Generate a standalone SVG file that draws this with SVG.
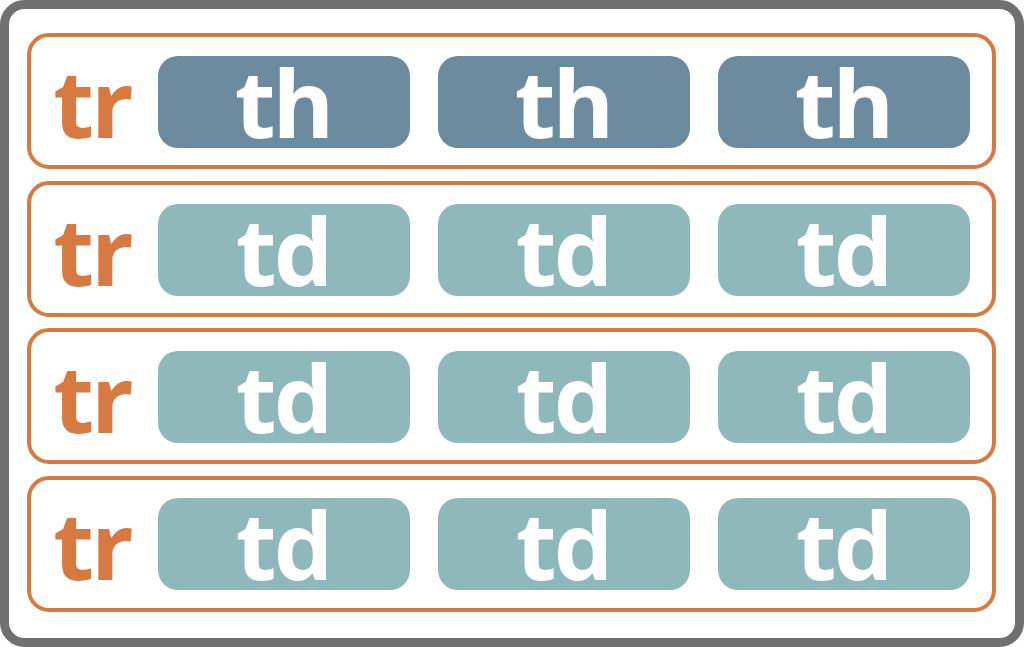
<svg xmlns="http://www.w3.org/2000/svg" width="1024" height="647" viewBox="0 0 1024 647">
<style>
.frame{fill:#fff;stroke:#707070;stroke-width:9}
.row{fill:#fff;stroke:#D67A42;stroke-width:4}
.th{fill:#6C8B9F}
.td{fill:#8FB8BA}
.lbl{font-family:"Open Sans","Noto Sans",sans-serif;font-weight:700;font-size:94px;text-anchor:middle;letter-spacing:-3px}
.w{fill:#fff}
.o{fill:#D67A42}
</style>
<rect class="frame" x="4.5" y="4.5" width="1015" height="638" rx="20"/>
<g id="row1">
<rect class="row" x="29" y="35" width="965" height="132" rx="20"/>
<text class="lbl o" x="92" y="138">tr</text>
<g id="r1c1"><rect class="th" x="158" y="56" width="252" height="92" rx="20"/><text class="lbl w" x="283" y="138">th</text></g>
<g id="r1c2"><rect class="th" x="438" y="56" width="252" height="92" rx="20"/><text class="lbl w" x="563" y="138">th</text></g>
<g id="r1c3"><rect class="th" x="718" y="56" width="252" height="92" rx="20"/><text class="lbl w" x="843" y="138">th</text></g>
</g>
<g id="row2">
<rect class="row" x="29" y="183" width="965" height="132" rx="20"/>
<text class="lbl o" x="92" y="286">tr</text>
<g id="r2c1"><rect class="td" x="158" y="204" width="252" height="92" rx="20"/><text class="lbl w" x="283" y="286">td</text></g>
<g id="r2c2"><rect class="td" x="438" y="204" width="252" height="92" rx="20"/><text class="lbl w" x="563" y="286">td</text></g>
<g id="r2c3"><rect class="td" x="718" y="204" width="252" height="92" rx="20"/><text class="lbl w" x="843" y="286">td</text></g>
</g>
<g id="row3">
<rect class="row" x="29" y="330" width="965" height="132" rx="20"/>
<text class="lbl o" x="92" y="433">tr</text>
<g id="r3c1"><rect class="td" x="158" y="351" width="252" height="92" rx="20"/><text class="lbl w" x="283" y="433">td</text></g>
<g id="r3c2"><rect class="td" x="438" y="351" width="252" height="92" rx="20"/><text class="lbl w" x="563" y="433">td</text></g>
<g id="r3c3"><rect class="td" x="718" y="351" width="252" height="92" rx="20"/><text class="lbl w" x="843" y="433">td</text></g>
</g>
<g id="row4">
<rect class="row" x="29" y="478" width="965" height="132" rx="20"/>
<text class="lbl o" x="92" y="580">tr</text>
<g id="r4c1"><rect class="td" x="158" y="498" width="252" height="92" rx="20"/><text class="lbl w" x="283" y="580">td</text></g>
<g id="r4c2"><rect class="td" x="438" y="498" width="252" height="92" rx="20"/><text class="lbl w" x="563" y="580">td</text></g>
<g id="r4c3"><rect class="td" x="718" y="498" width="252" height="92" rx="20"/><text class="lbl w" x="843" y="580">td</text></g>
</g>
<g id="connectors"/>
</svg>
